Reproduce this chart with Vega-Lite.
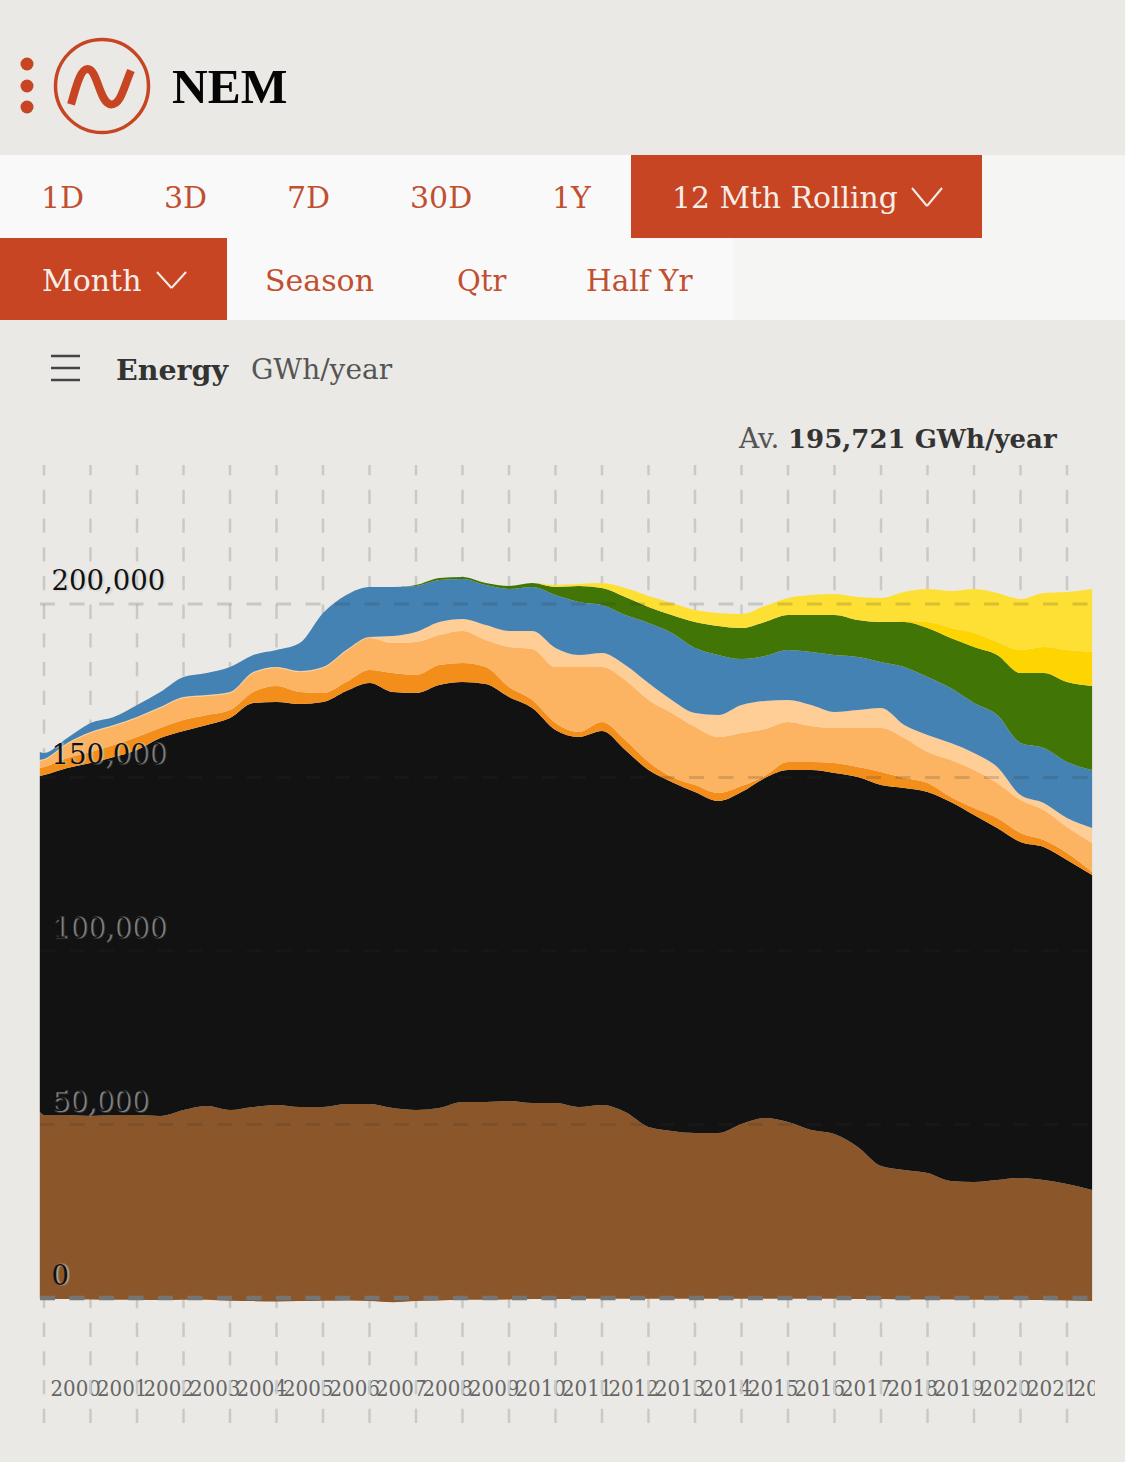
{"$schema":"https://vega.github.io/schema/vega-lite/v6.json","width":1125,"height":1462,"padding":0,"autosize":{"type":"none"},"background":"#EAE9E5","config":{"view":{"stroke":null}},
"datasets":{
"fuels":[{"fuel":"pumps","rank":0},{"fuel":"brown","rank":1},{"fuel":"black","rank":2},{"fuel":"steam","rank":3},{"fuel":"ccgt","rank":4},{"fuel":"ocgt","rank":5},{"fuel":"hydro","rank":6},{"fuel":"wind","rank":7},{"fuel":"solar","rank":8},{"fuel":"rooftop","rank":9}],
"years":[{"year":2000},{"year":2001},{"year":2002},{"year":2003},{"year":2004},{"year":2005},{"year":2006},{"year":2007},{"year":2008},{"year":2009},{"year":2010},{"year":2011},{"year":2012},{"year":2013},{"year":2014},{"year":2015},{"year":2016},{"year":2017},{"year":2018},{"year":2019},{"year":2020},{"year":2021},{"year":2022}],
"levels":[{"level":50000},{"level":100000},{"level":150000},{"level":200000}],
"ylabels":[{"level":0},{"level":50000},{"level":100000},{"level":150000},{"level":200000}],
"generation":[
{"year":1999.91,"brown":53600,"black":96830,"steam":2310,"ccgt":2020,"ocgt":290,"hydro":2310,"wind":0,"solar":0,"rooftop":0,"pumps":-200},
{"year":2000,"brown":52740,"black":97980,"steam":2310,"ccgt":2020,"ocgt":290,"hydro":1730,"wind":0,"solar":0,"rooftop":0,"pumps":-200},
{"year":2000.5,"brown":52740,"black":100000,"steam":2880,"ccgt":4030,"ocgt":290,"hydro":1440,"wind":0,"solar":0,"rooftop":0,"pumps":-300},
{"year":2001,"brown":52450,"black":101730,"steam":3170,"ccgt":5480,"ocgt":290,"hydro":2590,"wind":0,"solar":0,"rooftop":0,"pumps":-400},
{"year":2001.5,"brown":52740,"black":103170,"steam":3460,"ccgt":5480,"ocgt":290,"hydro":2310,"wind":0,"solar":0,"rooftop":0,"pumps":-500},
{"year":2002,"brown":52740,"black":105190,"steam":3750,"ccgt":5480,"ocgt":290,"hydro":3460,"wind":0,"solar":0,"rooftop":0,"pumps":-500},
{"year":2002.5,"brown":52450,"black":108930,"steam":2880,"ccgt":5760,"ocgt":290,"hydro":4320,"wind":0,"solar":0,"rooftop":0,"pumps":-600},
{"year":2003,"brown":54180,"black":109220,"steam":3170,"ccgt":6340,"ocgt":290,"hydro":5760,"wind":0,"solar":0,"rooftop":0,"pumps":-500},
{"year":2003.5,"brown":55330,"black":109800,"steam":2880,"ccgt":5480,"ocgt":290,"hydro":6340,"wind":0,"solar":0,"rooftop":0,"pumps":-500},
{"year":2004,"brown":54180,"black":112970,"steam":2310,"ccgt":4900,"ocgt":290,"hydro":7200,"wind":0,"solar":0,"rooftop":0,"pumps":-800},
{"year":2004.5,"brown":55040,"black":116430,"steam":3170,"ccgt":5480,"ocgt":290,"hydro":4900,"wind":0,"solar":0,"rooftop":0,"pumps":-900},
{"year":2005,"brown":55620,"black":116140,"steam":4610,"ccgt":5190,"ocgt":290,"hydro":4900,"wind":0,"solar":0,"rooftop":0,"pumps":-1000},
{"year":2005.5,"brown":55040,"black":116140,"steam":3460,"ccgt":5760,"ocgt":290,"hydro":8070,"wind":0,"solar":0,"rooftop":0,"pumps":-900},
{"year":2006,"brown":55040,"black":116710,"steam":2590,"ccgt":7200,"ocgt":290,"hydro":15560,"wind":0,"solar":0,"rooftop":0,"pumps":-800},
{"year":2006.5,"brown":55910,"black":119020,"steam":2590,"ccgt":8930,"ocgt":290,"hydro":15850,"wind":0,"solar":0,"rooftop":0,"pumps":-700},
{"year":2007,"brown":55910,"black":121320,"steam":3750,"ccgt":9220,"ocgt":290,"hydro":14410,"wind":0,"solar":0,"rooftop":0,"pumps":-900},
{"year":2007.5,"brown":54750,"black":119880,"steam":5480,"ccgt":8650,"ocgt":2020,"hydro":14120,"wind":0,"solar":0,"rooftop":0,"pumps":-1200},
{"year":2008,"brown":54180,"black":120170,"steam":5190,"ccgt":9510,"ocgt":2880,"hydro":13260,"wind":290,"solar":0,"rooftop":0,"pumps":-900},
{"year":2008.5,"brown":54750,"black":121900,"steam":5760,"ccgt":8650,"ocgt":3750,"hydro":12100,"wind":580,"solar":0,"rooftop":0,"pumps":-700},
{"year":2009,"brown":56480,"black":121040,"steam":5480,"ccgt":9220,"ocgt":3460,"hydro":11530,"wind":580,"solar":0,"rooftop":0,"pumps":-500},
{"year":2009.5,"brown":56480,"black":120460,"steam":4900,"ccgt":7780,"ocgt":4320,"hydro":11530,"wind":580,"solar":0,"rooftop":0,"pumps":-500},
{"year":2010,"brown":56770,"black":116430,"steam":2880,"ccgt":11530,"ocgt":4610,"hydro":12100,"wind":860,"solar":0,"rooftop":0,"pumps":-400},
{"year":2010.5,"brown":56190,"black":113830,"steam":2310,"ccgt":14700,"ocgt":5190,"hydro":12680,"wind":1150,"solar":0,"rooftop":0,"pumps":-300},
{"year":2011,"brown":56190,"black":107490,"steam":2020,"ccgt":16140,"ocgt":5480,"hydro":15270,"wind":2310,"solar":0,"rooftop":580,"pumps":-300},
{"year":2011.5,"brown":55040,"black":106630,"steam":1440,"ccgt":18730,"ocgt":3460,"hydro":15270,"wind":4610,"solar":0,"rooftop":580,"pumps":-200},
{"year":2012,"brown":55620,"black":107780,"steam":2590,"ccgt":15850,"ocgt":4030,"hydro":13830,"wind":4900,"solar":0,"rooftop":1440,"pumps":-200},
{"year":2012.5,"brown":53600,"black":104320,"steam":2880,"ccgt":17290,"ocgt":4320,"hydro":14410,"wind":5190,"solar":0,"rooftop":2590,"pumps":-200},
{"year":2013,"brown":49280,"black":102880,"steam":2310,"ccgt":17870,"ocgt":4900,"hydro":17290,"wind":4610,"solar":0,"rooftop":3170,"pumps":-200},
{"year":2013.5,"brown":48130,"black":100580,"steam":1440,"ccgt":18440,"ocgt":3750,"hydro":19310,"wind":5190,"solar":0,"rooftop":3460,"pumps":-200},
{"year":2014,"brown":47550,"black":98270,"steam":2020,"ccgt":16710,"ocgt":4030,"hydro":18730,"wind":7490,"solar":0,"rooftop":3460,"pumps":-200},
{"year":2014.5,"brown":47550,"black":95680,"steam":2310,"ccgt":16140,"ocgt":6340,"hydro":17290,"wind":8360,"solar":0,"rooftop":3750,"pumps":-200},
{"year":2015,"brown":50140,"black":95680,"steam":1730,"ccgt":15270,"ocgt":8070,"hydro":13260,"wind":8930,"solar":0,"rooftop":4030,"pumps":-200},
{"year":2015.5,"brown":51870,"black":97980,"steam":580,"ccgt":13540,"ocgt":8070,"hydro":12970,"wind":9800,"solar":0,"rooftop":4610,"pumps":-200},
{"year":2016,"brown":50720,"black":101440,"steam":2310,"ccgt":11530,"ocgt":6340,"hydro":14410,"wind":10090,"solar":0,"rooftop":4900,"pumps":-200},
{"year":2016.5,"brown":48410,"black":103750,"steam":2310,"ccgt":10370,"ocgt":6050,"hydro":15270,"wind":10660,"solar":0,"rooftop":5760,"pumps":-200},
{"year":2017,"brown":47260,"black":104030,"steam":2880,"ccgt":10090,"ocgt":4610,"hydro":16430,"wind":11530,"solar":0,"rooftop":6050,"pumps":-200},
{"year":2017.5,"brown":43520,"black":106630,"steam":2880,"ccgt":11240,"ocgt":5190,"hydro":15270,"wind":10660,"solar":0,"rooftop":6630,"pumps":-300},
{"year":2018,"brown":38040,"black":109800,"steam":3750,"ccgt":12680,"ocgt":5760,"hydro":13260,"wind":11530,"solar":0,"rooftop":6920,"pumps":-300},
{"year":2018.5,"brown":36890,"black":110090,"steam":2880,"ccgt":11530,"ocgt":3750,"hydro":16710,"wind":12970,"solar":290,"rooftop":8360,"pumps":-400},
{"year":2019,"brown":36020,"black":109800,"steam":2590,"ccgt":8930,"ocgt":4900,"hydro":16710,"wind":14120,"solar":1730,"rooftop":9510,"pumps":-400},
{"year":2019.5,"brown":33720,"black":109220,"steam":1440,"ccgt":10660,"ocgt":4900,"hydro":15850,"wind":14410,"solar":2880,"rooftop":10660,"pumps":-400},
{"year":2020,"brown":33430,"black":105760,"steam":2020,"ccgt":10950,"ocgt":4900,"hydro":14410,"wind":16140,"solar":4030,"rooftop":12680,"pumps":-500},
{"year":2020.5,"brown":34000,"black":101440,"steam":2880,"ccgt":10090,"ocgt":4610,"hydro":14990,"wind":17290,"solar":3750,"rooftop":14120,"pumps":-500},
{"year":2021,"brown":34580,"black":96830,"steam":2590,"ccgt":9510,"ocgt":1440,"hydro":14990,"wind":20170,"solar":6630,"rooftop":14700,"pumps":-500},
{"year":2021.5,"brown":34000,"black":95960,"steam":2020,"ccgt":8650,"ocgt":2020,"hydro":15850,"wind":21610,"solar":7490,"rooftop":15560,"pumps":-600},
{"year":2022,"brown":32850,"black":93370,"steam":2020,"ccgt":7490,"ocgt":2590,"hydro":16140,"wind":23050,"solar":9220,"rooftop":16710,"pumps":-700},
{"year":2022.54,"brown":31120,"black":90780,"steam":860,"ccgt":8360,"ocgt":4320,"hydro":16710,"wind":24210,"solar":9800,"rooftop":18160,"pumps":-900}
]},
"layer":[
{"data":{"values":[{}]},"mark":{"type":"rect","color":"#F5F5F3"},"encoding":{"x":{"datum":1999.0538},"x2":{"datum":2023.2473},"y":{"datum":329394},"y2":{"datum":281844}}},
{"data":{"values":[{}]},"mark":{"type":"rect","color":"#FAF9F9"},"encoding":{"x":{"datum":1999.0538},"x2":{"datum":2012.6237},"y":{"datum":329394},"y2":{"datum":305475}}},
{"data":{"values":[{}]},"mark":{"type":"rect","color":"#FAF9F9"},"encoding":{"x":{"datum":2003.9355},"x2":{"datum":2014.8172},"y":{"datum":305475},"y2":{"datum":281844}}},
{"data":{"values":[{}]},"mark":{"type":"rect","color":"#C74523"},"encoding":{"x":{"datum":2012.6237},"x2":{"datum":2020.172},"y":{"datum":329394},"y2":{"datum":305475}}},
{"data":{"values":[{}]},"mark":{"type":"rect","color":"#C74523"},"encoding":{"x":{"datum":1999.0538},"x2":{"datum":2003.9355},"y":{"datum":305475},"y2":{"datum":281844}}},
{"data":{"name":"years"},"mark":{"type":"rule","color":"#C9C9C7","strokeWidth":2.5,"strokeDash":[14.3,14.42],"strokeDashOffset":4},"encoding":{"x":{"field":"year","type":"quantitative"},"y":{"datum":240057},"y2":{"datum":-36599}}},
{"data":{"name":"generation"},"transform":[{"fold":["pumps","brown","black","steam","ccgt","ocgt","hydro","wind","solar","rooftop"],"as":["fuel","gwh"]},{"lookup":"fuel","from":{"data":{"name":"fuels"},"key":"fuel","fields":["rank"]}}],
"mark":{"type":"area","interpolate":"monotone"},
"encoding":{"x":{"field":"year","type":"quantitative","scale":{"domain":[1999.0538,2023.2473],"nice":false,"zero":false},"axis":{"values":[2000,2001,2002,2003,2004,2005,2006,2007,2008,2009,2010,2011,2012,2013,2014,2015,2016,2017,2018,2019,2020,2021,2022],"format":"d","title":null,"orient":"bottom","offset":-74,"grid":false,"domain":false,"ticks":false,"tickSize":0,"labelPadding":0,"labelAlign":"left","labelBaseline":"middle","labelOffset":6,"labelOverlap":false,"labelBound":false,"labelFlush":false,"labelColor":"#666666","labelFont":"DejaVu Serif Condensed","labelFontSize":22}},
"y":{"field":"gwh","type":"quantitative","stack":"zero","scale":{"domain":[-47262,374063],"nice":false,"zero":false},"axis":{"values":[0,50000,100000,150000,200000],"format":",d","title":null,"orient":"left","offset":-51,"grid":false,"domain":false,"ticks":false,"tickSize":0,"labelPadding":0,"labelAlign":"left","labelBaseline":"middle","labelOffset":-22,"labelOverlap":false,"labelBound":false,"labelFlush":false,"labelColor":"#111111","labelFont":"DejaVu Serif","labelFontSize":27.5,"zindex":1}},
"color":{"field":"fuel","type":"nominal","legend":null,"scale":{"domain":["pumps","brown","black","steam","ccgt","ocgt","hydro","wind","solar","rooftop"],"range":["#8B572A","#8B572A","#121212","#F48E1B","#FDB462","#FFCD96","#4582B4","#417505","#FED500","#FEE034"]}},
"order":{"field":"rank","type":"quantitative"}}},
{"data":{"name":"levels"},"mark":{"type":"rule","color":"#333333","opacity":0.18,"strokeWidth":3,"strokeDash":[15,14.5]},"encoding":{"y":{"field":"level","type":"quantitative"},"x":{"datum":1999.914},"x2":{"datum":2022.538}}},
{"data":{"values":[{"level":0}]},"mark":{"type":"rule","color":"#757575","strokeWidth":4.5,"strokeDash":[15,14.5]},"encoding":{"y":{"field":"level","type":"quantitative"},"x":{"datum":1999.914},"x2":{"datum":2022.538}}},
{"data":{"name":"ylabels"},"mark":{"type":"text","align":"left","baseline":"middle","dy":-21,"font":"DejaVu Serif","fontSize":27.5,"color":"#CFCFCF","opacity":0.6,"stroke":"#CFCFCF","strokeWidth":2,"strokeOpacity":0.35},"encoding":{"x":{"datum":2000.2},"y":{"field":"level","type":"quantitative"},"text":{"field":"level","type":"quantitative","format":",d"}}},
{"data":{"values":[{}]},"mark":{"type":"rect","color":"#EAE9E5"},"encoding":{"x":{"datum":2022.6022},"x2":{"datum":2023.2473},"y":{"datum":-20749},"y2":{"datum":-30836}}},
{"data":{"values":[{}]},"mark":{"type":"point","filled":true,"color":"#C74523","size":169,"opacity":1},"encoding":{"x":{"datum":1999.6344},"y":{"datum":355619}}},
{"data":{"values":[{}]},"mark":{"type":"point","filled":true,"color":"#C74523","size":169,"opacity":1},"encoding":{"x":{"datum":1999.6344},"y":{"datum":349279}}},
{"data":{"values":[{}]},"mark":{"type":"point","filled":true,"color":"#C74523","size":169,"opacity":1},"encoding":{"x":{"datum":1999.6344},"y":{"datum":343227}}},
{"data":{"values":[{}]},"mark":{"type":"point","filled":false,"color":"#C74523","size":8649,"strokeWidth":3.5,"opacity":1},"encoding":{"x":{"datum":2001.2473},"y":{"datum":349279}}},
{"data":{"values":[{}]},"mark":{"type":"point","filled":false,"color":"#C74523","shape":"M-1,0.58 C-0.87,0.16 -0.71,-0.6 -0.45,-0.6 C-0.1,-0.6 -0.06,0.58 0.35,0.58 C0.66,0.58 0.76,0 1,-0.55","size":3600,"strokeWidth":8,"opacity":1},"encoding":{"x":{"datum":2001.2258},"y":{"datum":348991}}},
{"data":{"values":[{"label":"NEM"}]},"mark":{"type":"text","align":"left","baseline":"middle","dy":1,"font":"Liberation Serif","fontWeight":"bold","fontSize":49.5,"color":"#050505"},"encoding":{"x":{"datum":2002.7527},"y":{"datum":348991},"text":{"field":"label"}}},
{"data":{"values":[{"label":"1D"}]},"mark":{"type":"text","align":"left","baseline":"middle","dy":2,"font":"DejaVu Serif","fontSize":30,"color":"#C0502F"},"encoding":{"x":{"datum":1999.9355},"y":{"datum":317291},"text":{"field":"label"}}},
{"data":{"values":[{"label":"3D"}]},"mark":{"type":"text","align":"left","baseline":"middle","dy":2,"font":"DejaVu Serif","fontSize":30,"color":"#C0502F"},"encoding":{"x":{"datum":2002.5806},"y":{"datum":317291},"text":{"field":"label"}}},
{"data":{"values":[{"label":"7D"}]},"mark":{"type":"text","align":"left","baseline":"middle","dy":2,"font":"DejaVu Serif","fontSize":30,"color":"#C0502F"},"encoding":{"x":{"datum":2005.2258},"y":{"datum":317291},"text":{"field":"label"}}},
{"data":{"values":[{"label":"30D"}]},"mark":{"type":"text","align":"left","baseline":"middle","dy":2,"font":"DejaVu Serif","fontSize":30,"color":"#C0502F"},"encoding":{"x":{"datum":2007.871},"y":{"datum":317291},"text":{"field":"label"}}},
{"data":{"values":[{"label":"1Y"}]},"mark":{"type":"text","align":"left","baseline":"middle","dy":2,"font":"DejaVu Serif","fontSize":30,"color":"#C0502F"},"encoding":{"x":{"datum":2010.9247},"y":{"datum":317291},"text":{"field":"label"}}},
{"data":{"values":[{"label":"12 Mth Rolling"}]},"mark":{"type":"text","align":"left","baseline":"middle","dy":2,"font":"DejaVu Serif","fontSize":29.8,"color":"#F6EDE8"},"encoding":{"x":{"datum":2013.5054},"y":{"datum":317291},"text":{"field":"label"}}},
{"data":{"values":[{"label":"Month"}]},"mark":{"type":"text","align":"left","baseline":"middle","dy":2,"font":"DejaVu Serif","fontSize":30,"color":"#F6EDE8"},"encoding":{"x":{"datum":1999.957},"y":{"datum":293371},"text":{"field":"label"}}},
{"data":{"values":[{"label":"Season"}]},"mark":{"type":"text","align":"left","baseline":"middle","dy":2,"font":"DejaVu Serif","fontSize":30,"color":"#C0502F"},"encoding":{"x":{"datum":2004.7527},"y":{"datum":293371},"text":{"field":"label"}}},
{"data":{"values":[{"label":"Qtr"}]},"mark":{"type":"text","align":"left","baseline":"middle","dy":2,"font":"DejaVu Serif","fontSize":29,"color":"#C0502F"},"encoding":{"x":{"datum":2008.8817},"y":{"datum":293371},"text":{"field":"label"}}},
{"data":{"values":[{"label":"Half Yr"}]},"mark":{"type":"text","align":"left","baseline":"middle","dy":2,"font":"DejaVu Serif","fontSize":29.5,"color":"#C0502F"},"encoding":{"x":{"datum":2011.6559},"y":{"datum":293371},"text":{"field":"label"}}},
{"data":{"values":[{}]},"mark":{"type":"rule","color":"#F6EDE8","strokeWidth":2},"encoding":{"x":{"datum":2018.6667},"x2":{"datum":2018.9892},"y":{"datum":319884},"y2":{"datum":314697}}},
{"data":{"values":[{}]},"mark":{"type":"rule","color":"#F6EDE8","strokeWidth":2},"encoding":{"x":{"datum":2018.9892},"x2":{"datum":2019.3118},"y":{"datum":314697},"y2":{"datum":319884}}},
{"data":{"values":[{}]},"mark":{"type":"rule","color":"#F6EDE8","strokeWidth":2},"encoding":{"x":{"datum":2002.4301},"x2":{"datum":2002.7419},"y":{"datum":295677},"y2":{"datum":291066}}},
{"data":{"values":[{}]},"mark":{"type":"rule","color":"#F6EDE8","strokeWidth":2},"encoding":{"x":{"datum":2002.7419},"x2":{"datum":2003.0538},"y":{"datum":291066},"y2":{"datum":295677}}},
{"data":{"values":[{}]},"mark":{"type":"rule","color":"#444444","strokeWidth":2.5},"encoding":{"x":{"datum":2000.1505},"x2":{"datum":2000.7742},"y":{"datum":271469}}},
{"data":{"values":[{}]},"mark":{"type":"rule","color":"#444444","strokeWidth":2.5},"encoding":{"x":{"datum":2000.1505},"x2":{"datum":2000.7742},"y":{"datum":268011}}},
{"data":{"values":[{}]},"mark":{"type":"rule","color":"#444444","strokeWidth":2.5},"encoding":{"x":{"datum":2000.1505},"x2":{"datum":2000.7742},"y":{"datum":264553}}},
{"data":{"values":[{"label":"Energy"}]},"mark":{"type":"text","align":"left","baseline":"middle","dy":2,"font":"DejaVu Serif","fontWeight":"bold","fontSize":28.5,"color":"#333333"},"encoding":{"x":{"datum":2001.5484},"y":{"datum":267723},"text":{"field":"label"}}},
{"data":{"values":[{"label":"GWh/year"}]},"mark":{"type":"text","align":"left","baseline":"middle","dy":2,"font":"DejaVu Serif","fontSize":28,"color":"#555555"},"encoding":{"x":{"datum":2004.4516},"y":{"datum":267723},"text":{"field":"label"}}},
{"data":{"values":[{"label":"Av."}]},"mark":{"type":"text","align":"left","baseline":"middle","dy":2,"font":"DejaVu Serif","fontSize":28,"color":"#555555"},"encoding":{"x":{"datum":2014.9462},"y":{"datum":247838},"text":{"field":"label"}}},
{"data":{"values":[{"label":"195,721 GWh/year"}]},"mark":{"type":"text","align":"left","baseline":"middle","dy":2,"font":"DejaVu Serif","fontWeight":"bold","fontSize":26,"color":"#333333"},"encoding":{"x":{"datum":2016.0},"y":{"datum":247838},"text":{"field":"label"}}}
]}
